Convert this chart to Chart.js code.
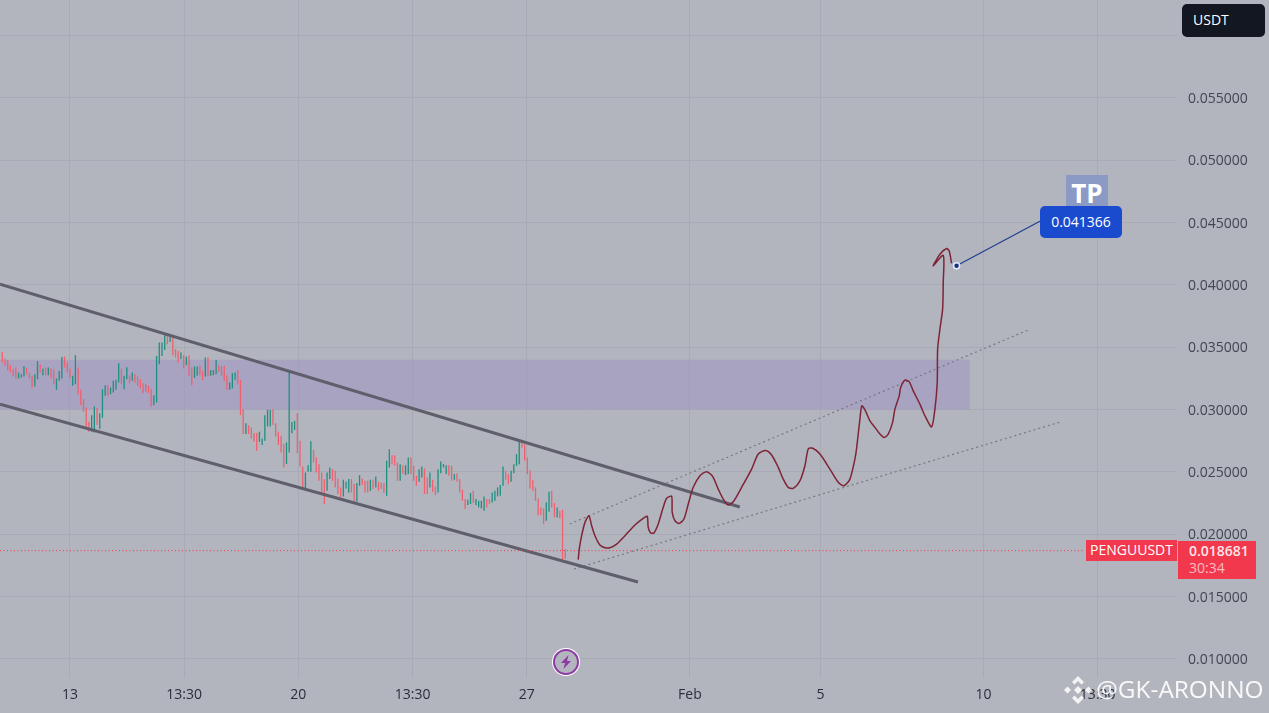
<!DOCTYPE html>
<html>
<head>
<meta charset="utf-8">
<title>PENGUUSDT</title>
<script src="https://cdn.jsdelivr.net/npm/chart.js@4"></script>
<style>
  html, body { margin: 0; padding: 0; width: 1269px; height: 713px; overflow: hidden; background: #b2b5be; }
  #wrap { position: relative; width: 1269px; height: 713px; font-family: "Open Sans", sans-serif; }
  canvas { position: absolute; left: 0; top: 0; }
  .tag { position: absolute; box-sizing: border-box; color: #fff; font-size: 14px; line-height: 1; white-space: nowrap; }
  .tag span { position: absolute; }
</style>
</head>
<body>
<div id="wrap">
  <canvas id="myChart" width="1269" height="713"></canvas>

  <div class="tag" style="left:1182px;top:4px;width:83px;height:33px;background:#131722;border-radius:5px;">
    <span style="left:11px;top:9px;">USDT</span>
  </div>

  <div class="tag" style="left:1066px;top:175px;width:42px;height:34px;background:#8b9ac5;font-size:26px;font-weight:700;text-align:center;line-height:36px;">TP</div>
  <div class="tag" style="left:1040px;top:206px;width:82px;height:32px;background:#1a4bcf;border-radius:5px;text-align:center;line-height:31px;font-weight:500;">0.041366</div>

  <div class="tag" style="left:1086px;top:540px;width:91px;height:21px;background:#f2384c;text-align:center;line-height:20px;">PENGUUSDT</div>
  <div class="tag" style="left:1178px;top:541px;width:78px;height:38px;background:#f2384c;">
    <span style="left:11px;top:3px;font-weight:600;color:#ffe6e8;">0.018681</span>
    <span style="left:11px;top:20px;color:#fbb9c0;">30:34</span>
  </div>

  <svg style="position:absolute;left:551px;top:647px;" width="30" height="30" viewBox="0 0 30 30">
    <circle cx="15" cy="15" r="14" fill="#fff"/>
    <circle cx="15" cy="15" r="12" fill="#b2b5be" stroke="#8e3aa5" stroke-width="2"/>
    <polygon points="17.5,8 10,16 14,16 12.5,22 20,14 16,14" fill="#8e3aa5"/>
  </svg>

  <svg style="position:absolute;left:1063px;top:675px;" width="30" height="30" viewBox="0 0 30 30" fill="#ffffff" fill-opacity="0.85">
    <polygon points="15,1 21,7 18.5,9.5 15,6 11.5,9.5 9,7"/>
    <polygon points="15,29 21,23 18.5,20.5 15,24 11.5,20.5 9,23"/>
    <polygon points="4.5,11.5 8,15 4.5,18.5 1,15"/>
    <polygon points="25.5,11.5 29,15 25.5,18.5 22,15"/>
    <polygon points="15,11 19,15 15,19 11,15"/>
  </svg>
  <div class="tag" style="left:1096px;top:677px;font-size:24.4px;color:rgba(255,255,255,0.92);">@GK-ARONNO</div>
</div>

<script>
// axis ticks
const priceTicks = [0.01, 0.015, 0.02, 0.025, 0.03, 0.035, 0.04, 0.045, 0.05, 0.055, 0.06];
const priceLabels = ['0.010000', '0.015000', '0.020000', '0.025000', '0.030000', '0.035000', '0.040000', '0.045000', '0.050000', '0.055000', ''];
const timeTicks = [13, 16.5, 20, 23.5, 27, 32, 36, 41, 44.5];
const timeLabels = ['13', '13:30', '20', '13:30', '27', 'Feb', '5', '10', '13:30'];

// price bars, oldest first
const firstBarDay = 10.926;
const lastBarDay = 28.18;
const candleHigh = [
  .03462,.03409,.03398,.03356,.03324,.03337,.03297,.03284,.03350,.03334,
  .03292,.03270,.03284,.03388,.03361,.03329,.03337,.03337,.03329,.03324,
  .03249,.03310,.03422,.03425,.03377,.03329,.03270,.03436,.03337,.03158,
  .03083,.03017,.02902,.02955,.03025,.03014,.02971,.03163,.03195,.03195,
  .03177,.03230,.03238,.03372,.03329,.03270,.03340,.03275,.03297,.03284,
  .03265,.03243,.03211,.03203,.03190,.03163,.03115,.03430,.03537,.03537,
  .03612,.03612,.03604,.03585,.03484,.03470,.03457,.03436,.03425,.03436,
  .03337,.03345,.03345,.03350,.03310,.03417,.03417,.03318,.03318,.03398,
  .03356,.03345,.03350,.03275,.03217,.03292,.03297,.03318,.03238,.03003,
  .02891,.02875,.02856,.02811,.02811,.02822,.02768,.02955,.02998,.02998,
  .03003,.02891,.02822,.02790,.02723,.02736,.03302,.02901,.02909,.02971,
  .02749,.02543,.02495,.02554,.02746,.02677,.02615,.02562,.02495,.02442,
  .02495,.02535,.02522,.02509,.02447,.02375,.02437,.02420,.02442,.02442,
  .02402,.02410,.02474,.02447,.02429,.02429,.02437,.02437,.02463,.02420,
  .02415,.02410,.02589,.02682,.02634,.02634,.02575,.02562,.02554,.02554,
  .02615,.02615,.02549,.02469,.02522,.02543,.02527,.02455,.02495,.02437,
  .02383,.02522,.02583,.02562,.02554,.02554,.02549,.02482,.02490,.02442,
  .02356,.02282,.02276,.02330,.02348,.02282,.02268,.02268,.02303,.02282,
  .02282,.02335,.02348,.02375,.02394,.02543,.02509,.02482,.02509,.02562,
  .02642,.02741,.02757,.02722,.02615,.02514,.02437,.02375,.02287,.02215,
  .02207,.02255,.02340,.02348,.02250,.02215,.02188,.02196,.01881
];
const candleLow = [
  .03377,.03350,.03318,.03297,.03265,.03249,.03249,.03257,.03265,.03284,
  .03249,.03174,.03185,.03243,.03297,.03275,.03275,.03275,.03249,.03203,
  .03158,.03230,.03249,.03337,.03297,.03254,.03190,.03203,.03123,.03035,
  .02982,.02856,.02822,.02822,.02816,.02875,.02843,.02934,.03110,.03110,
  .03123,.03137,.03158,.03217,.03203,.03163,.03243,.03211,.03230,.03217,
  .03190,.03169,.03131,.03142,.03131,.03025,.03035,.03057,.03364,.03430,
  .03478,.03524,.03542,.03436,.03417,.03377,.03404,.03329,.03356,.03270,
  .03195,.03254,.03270,.03275,.03235,.03265,.03265,.03270,.03275,.03284,
  .03302,.03270,.03230,.03158,.03158,.03169,.03238,.03203,.02955,.02803,
  .02803,.02803,.02768,.02741,.02669,.02741,.02715,.02749,.02864,.02864,
  .02875,.02784,.02715,.02656,.02536,.02563,.02656,.02810,.02837,.02650,
  .02543,.02356,.02348,.02501,.02501,.02575,.02495,.02429,.02322,.02242,
  .02348,.02442,.02429,.02375,.02322,.02295,.02303,.02367,.02335,.02335,
  .02255,.02260,.02388,.02394,.02335,.02335,.02348,.02362,.02375,.02348,
  .02362,.02330,.02308,.02535,.02562,.02549,.02429,.02429,.02482,.02474,
  .02482,.02482,.02429,.02388,.02420,.02455,.02322,.02322,.02375,.02340,
  .02314,.02335,.02490,.02535,.02482,.02469,.02429,.02437,.02420,.02335,
  .02268,.02202,.02234,.02242,.02250,.02234,.02215,.02207,.02188,.02215,
  .02242,.02255,.02268,.02303,.02308,.02388,.02437,.02402,.02420,.02490,
  .02549,.02562,.02696,.02589,.02482,.02367,.02348,.02268,.02153,.02153,
  .02081,.02108,.02180,.02215,.02135,.02135,.02127,.01774,.01801
];
const candleUp = [
  0,0,0,0,0,0,1,1,1,0,
  0,0,1,1,0,1,0,1,0,0,
  1,1,1,0,0,0,1,1,0,0,
  0,0,0,1,1,0,1,1,1,0,
  1,1,1,1,0,1,1,0,1,0,
  0,0,0,0,0,0,1,1,1,1,
  1,0,1,0,0,0,1,0,1,0,
  0,1,1,0,0,1,0,1,1,1,
  0,0,0,0,1,1,1,0,0,0,
  1,0,0,0,0,1,1,1,1,1,
  0,0,0,0,0,1,1,1,1,0,
  0,0,1,1,1,0,0,0,0,0,
  1,1,0,0,0,0,1,1,1,0,
  0,1,1,0,0,0,1,0,1,0,
  0,0,1,1,0,0,0,1,0,1,
  1,0,0,0,1,1,0,0,1,0,
  0,1,1,1,1,0,0,1,0,0,
  0,0,1,1,0,1,1,1,1,0,
  0,1,1,1,1,1,0,0,1,1,
  1,1,0,0,0,0,0,0,0,0,
  0,1,1,0,0,1,0,0,0
];

// drawn levels and trend lines
const zoneTop = 0.034;
const zoneBottom = 0.03;
const zoneDays = [10.855, 40.58];
const lastPrice = 0.018681;
const lastPriceDays = [10.855, 44.107];
const upperChannelDays = [10.855, 33.53];
const upperChannelPrices = [0.04005, 0.02218];
const lowerChannelDays = [10.855, 30.41];
const lowerChannelPrices = [0.03043, 0.01617];
const upperRiseDays = [28.32, 42.42];
const upperRisePrices = [0.02082, 0.03644];
const lowerRiseDays = [28.45, 43.34];
const lowerRisePrices = [0.01721, 0.02899];
const targetDays = [40.174, 42.727];
const targetPrices = [0.04153, 0.0451];

// hand drawn projection
const sketchDays = [
  28.578,28.609,28.682,28.784,28.906,28.989,29.09,29.243,29.396,29.55,
  29.755,30.009,30.316,30.57,30.693,30.723,30.797,30.898,31.03,31.183,
  31.287,31.44,31.459,31.542,31.674,31.818,31.95,32.103,32.308,32.513,
  32.697,32.869,33.022,33.175,33.328,33.586,33.892,34.095,34.322,34.505,
  34.708,34.861,35.014,35.168,35.373,35.526,35.627,35.75,35.986,36.292,
  36.547,36.721,36.905,37.058,37.11,37.211,37.273,37.395,37.518,37.671,
  37.824,37.956,38.079,38.213,38.284,38.416,38.459,38.591,38.723,38.846,
  39.05,39.204,39.409,39.51,39.581,39.593,39.663,39.746,39.765,39.765,
  39.458,39.663,39.868,39.948,40.021
];
const sketchPrices = [
  .01796,.01881,.01988,.02095,.02148,.02068,.01988,.01913,.01892,.01892,
  .01921,.01988,.02074,.02127,.02143,.02055,.0201,.0201,.02082,.02216,
  .02288,.02304,.02175,.02108,.02087,.02122,.02242,.02376,.02469,.02501,
  .02464,.02362,.02282,.02234,.0226,.02376,.02522,.02643,.02672,.02635,
  .02536,.02442,.02376,.02368,.02429,.02549,.02683,.02691,.02643,.02522,
  .02416,.02389,.02442,.02603,.02688,.02923,.0303,.02982,.0291,.02857,
  .02803,.02776,.02803,.02897,.03003,.0311,.03177,.03236,.03222,.0315,
  .03043,.0295,.02861,.03003,.03217,.03484,.03644,.03805,.04018,.04237,
  .04152,.04245,.04291,.04272,.04173
];

const barStep = (lastBarDay - firstBarDay) / (candleHigh.length - 1);
const candles = candleHigh.map((high, i) => ({ x: firstBarDay + i * barStep, y: [candleLow[i], high] }));
const candleColors = candleUp.map(up => up ? '#1f8f80' : '#f0606e');

function toPoints(days, prices) {
  return days.map((d, i) => ({ x: d, y: prices[i] }));
}

function straightLine(days, prices, color, width, dash) {
  return {
    type: 'line',
    data: toPoints(days, prices),
    borderColor: color,
    borderWidth: width,
    borderDash: dash || [],
    pointRadius: 0,
    tension: 0,
    order: 2
  };
}

// tick labels must not push the plot area in from the window edge
function noPadding(axis) {
  axis.paddingLeft = axis.paddingRight = axis.paddingTop = axis.paddingBottom = 0;
}

const gridColor = '#a8abb5';

new Chart(document.getElementById('myChart'), {
  type: 'bar',
  data: {
    datasets: [
      {
        type: 'line',
        data: toPoints(zoneDays, [zoneTop, zoneTop]),
        borderWidth: 0,
        pointRadius: 0,
        fill: { target: { value: zoneBottom } },
        backgroundColor: 'rgba(158, 146, 196, 0.5)',
        order: 10
      },
      {
        data: candles,
        backgroundColor: candleColors,
        barThickness: 1.3,
        inflateAmount: 0,
        order: 5
      },
      straightLine(lastPriceDays, [lastPrice, lastPrice], '#f2364d', 1, [1, 2.5]),
      straightLine(upperChannelDays, upperChannelPrices, '#5f5e6b', 3),
      straightLine(lowerChannelDays, lowerChannelPrices, '#5f5e6b', 3),
      straightLine(upperRiseDays, upperRisePrices, '#77787f', 1.2, [2, 3]),
      straightLine(lowerRiseDays, lowerRisePrices, '#77787f', 1.2, [2, 3]),
      {
        type: 'line',
        data: toPoints(sketchDays, sketchPrices),
        borderColor: '#7f2436',
        borderWidth: 1.5,
        pointRadius: 0,
        tension: 0.25,
        order: 1
      },
      {
        type: 'line',
        data: toPoints(targetDays, targetPrices),
        borderColor: '#1f3f8f',
        borderWidth: 1.2,
        pointRadius: [3, 0],
        pointBackgroundColor: '#1a2f7a',
        pointBorderColor: '#e4ecff',
        pointBorderWidth: 1.5,
        tension: 0,
        clip: false,
        order: 0
      }
    ]
  },
  options: {
    responsive: false,
    animation: false,
    devicePixelRatio: 1,
    layout: { padding: 0, autoPadding: false },
    plugins: {
      legend: { display: false },
      tooltip: { enabled: false }
    },
    scales: {
      x: {
        type: 'linear',
        offset: false,
        min: 10.855,
        max: 46.93,
        afterBuildTicks: axis => { axis.ticks = timeTicks.map(v => ({ value: v })); },
        afterFit: axis => { axis.height = 35; noPadding(axis); },
        border: { display: false },
        grid: { color: gridColor, offset: false, drawTicks: false },
        ticks: {
          autoSkip: false,
          maxRotation: 0,
          padding: 9,
          color: '#2a2e39',
          font: { family: 'Open Sans', size: 14 },
          callback: (value, index) => timeLabels[index]
        }
      },
      y: {
        position: 'right',
        min: 0.008468,
        max: 0.062847,
        afterBuildTicks: axis => { axis.ticks = priceTicks.map(v => ({ value: v })); },
        afterFit: axis => { axis.width = 92; noPadding(axis); },
        border: { display: false },
        grid: { color: gridColor, drawTicks: false },
        ticks: {
          padding: 11,
          labelOffset: 1,
          color: '#434651',
          font: { family: 'Open Sans', size: 14, weight: '500' },
          callback: (value, index) => priceLabels[index]
        }
      }
    }
  }
});
</script>
</body>
</html>
